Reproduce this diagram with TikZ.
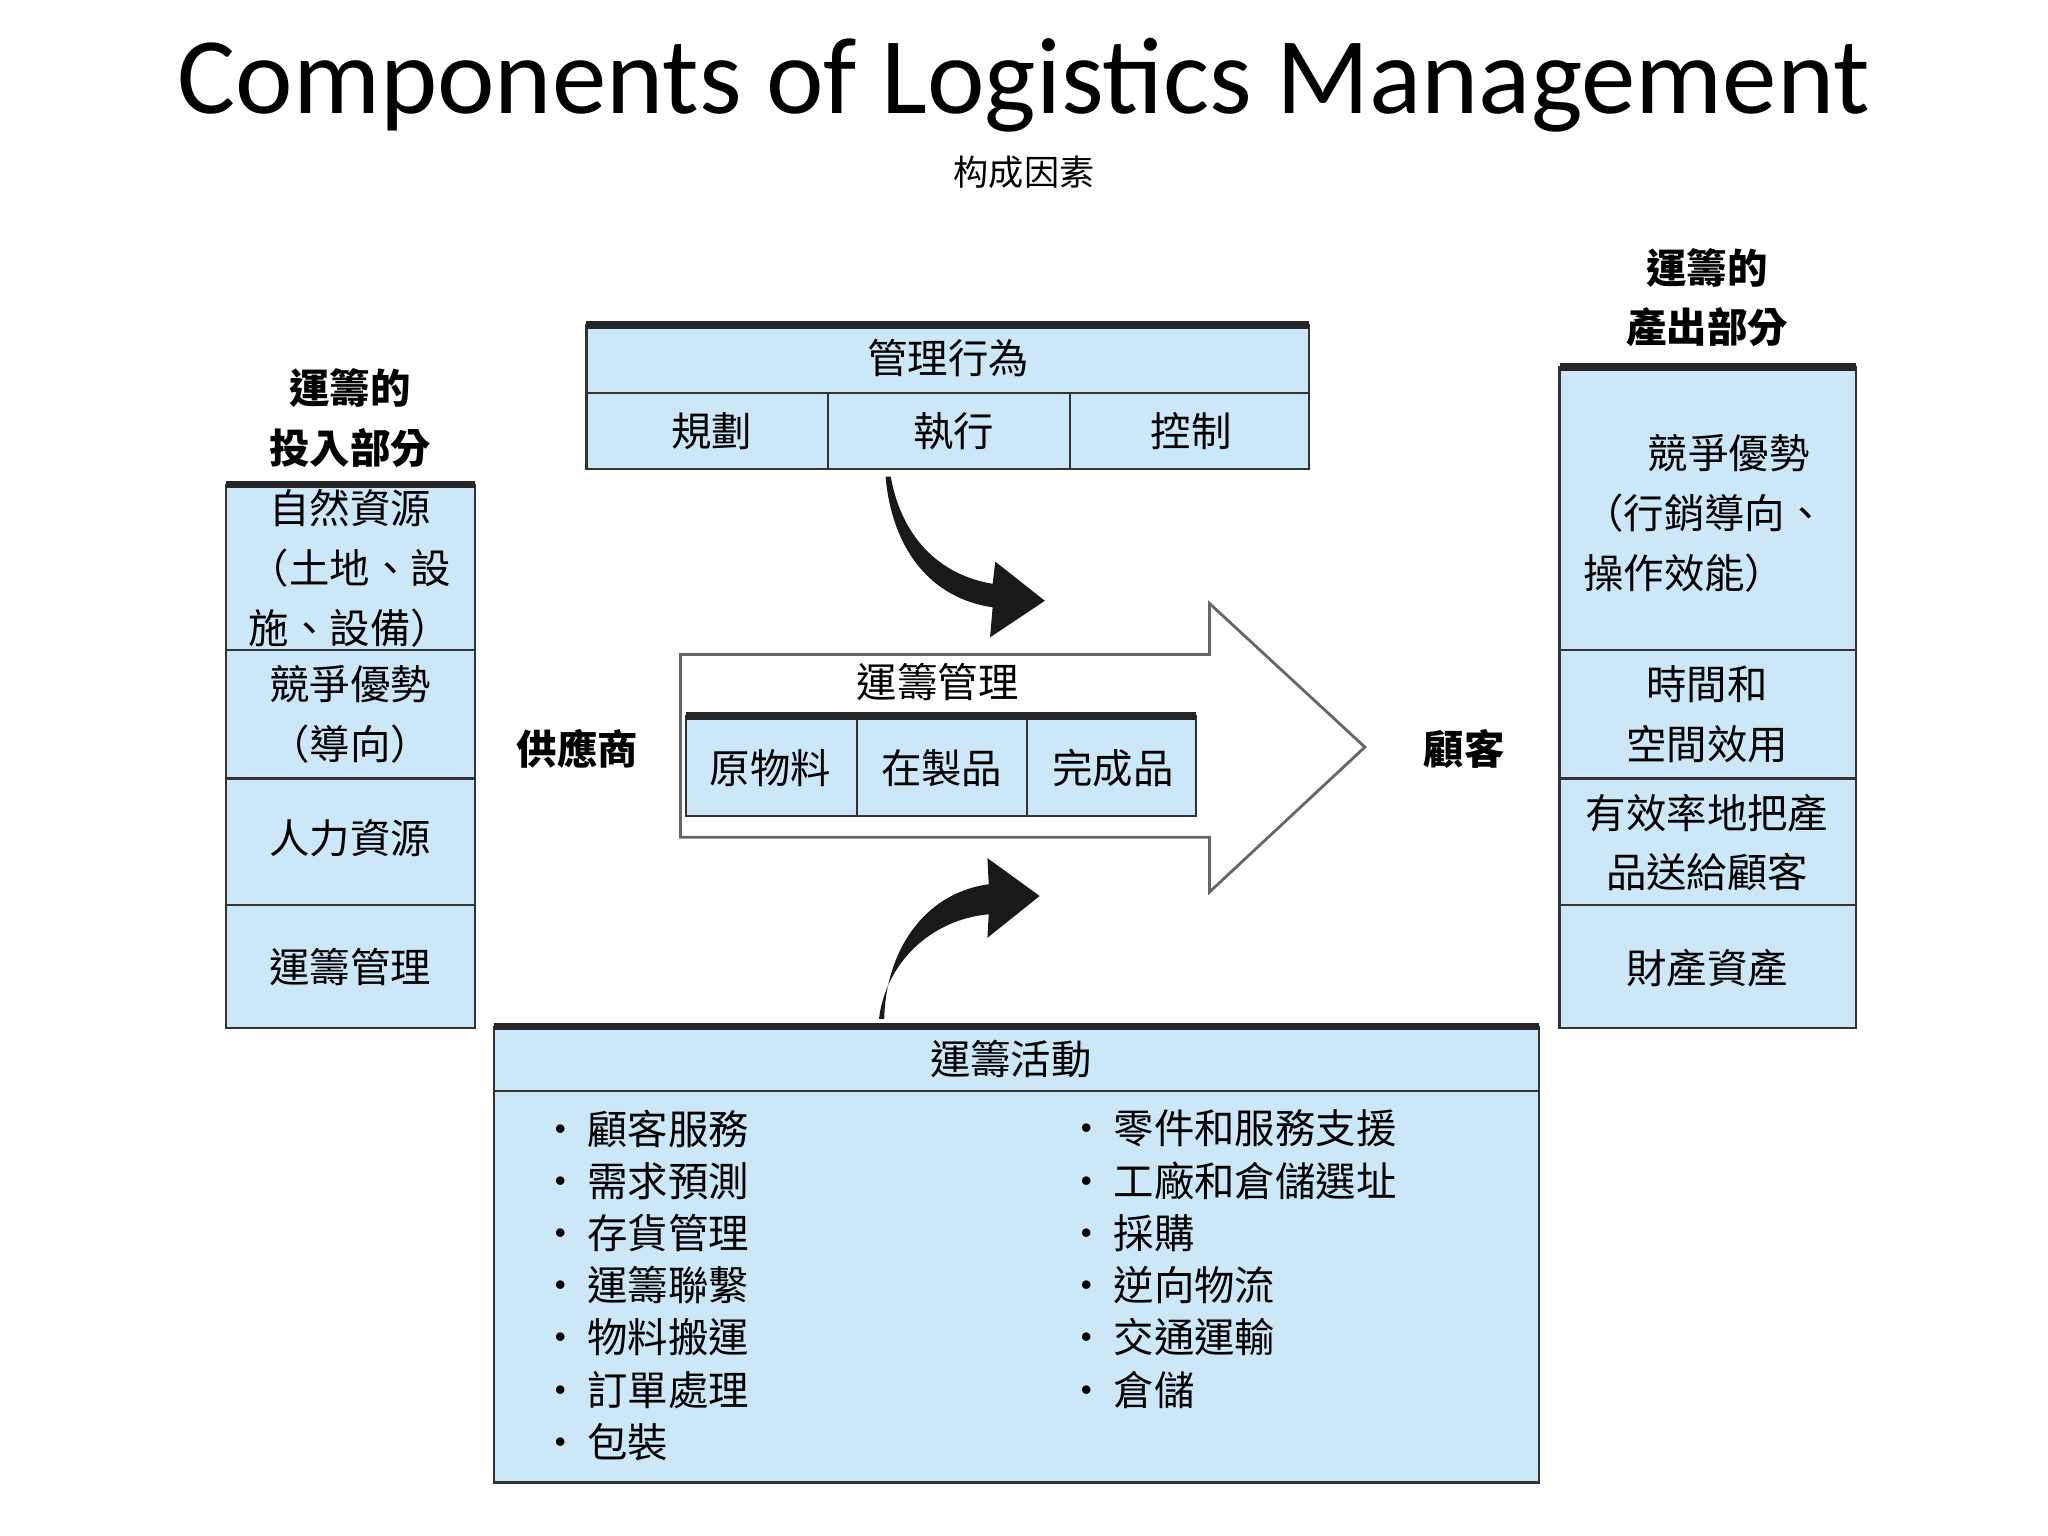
\documentclass[tikz,border=0pt]{standalone}
\usepackage{fontspec}
\setmainfont{Carlito}
\newfontfamily\cjk{Noto Sans CJK TC}
\newfontfamily\cjksc{Noto Sans CJK SC}
\definecolor{boxblue}{RGB}{204,232,248}
\begin{document}
\begin{tikzpicture}[x=0.013061cm,y=-0.013061cm,
  cell/.style={draw=black!80,fill=boxblue,line width=0.6pt},
  thick top/.style={line width=2.2pt,black!85},
  txt/.style={font=\cjk\fontsize{11.5}{17}\selectfont,align=center,inner sep=0pt},
  lab/.style={font=\cjk\bfseries\fontsize{11.5}{17}\selectfont,align=center,inner sep=0pt},
  item/.style={font=\cjk\fontsize{11.5}{17}\selectfont,anchor=west,inner sep=0pt}]
\useasboundingbox (0,0) rectangle (1568,1176);
\node[inner sep=0pt,font=\fontsize{31}{36}\selectfont] (title) at (784,65) {Components of Logistics Management};
\node[inner sep=0pt,font=\cjksc\fontsize{10}{12}\selectfont] (sub) at (784,132) {构成因素};
% left column
\foreach \a/\b in {371/498,498/596,596/693,693/787}{\draw[cell] (173,\a) rectangle (364,\b);}
\draw[thick top] (173,371) -- (364,371);
\node[lab] (linlab) at (268,320) {運籌的\\投入部分};
\node[txt] (l1) at (268,435) {自然資源\\（土地、設\\施、設備）};
\node[txt] (l2) at (268,547) {競爭優勢\\（導向）};
\node[txt] (l3) at (268,642) {人力資源};
\node[txt] (l4) at (268,740) {運籌管理};
% right column
\foreach \a/\b in {281/498,498/596,596/693,693/787}{\draw[cell] (1194,\a) rectangle (1421,\b);}
\draw[thick top] (1194,281) -- (1421,281);
\node[lab] (routlab) at (1307,228) {運籌的\\產出部分};
\node[txt,align=left] (r1) at (1305,393) {\hspace*{1.6em}競爭優勢\\（行銷導向、\\操作效能）};
\node[txt] (r2) at (1307,547) {時間和\\空間效用};
\node[txt] (r3) at (1307,645) {有效率地把產\\品送給顧客};
\node[txt] (r4) at (1307,741) {財產資產};
% top box
\draw[cell] (449,249) rectangle (1002,301);
\foreach \a/\b in {449/634,634/819,819/1002}{\draw[cell] (\a,301) rectangle (\b,359);}
\draw[thick top] (449,249) -- (1002,249);
\node[txt] (mgmt) at (726,274) {管理行為};
\node[txt] (t1) at (545,330) {規劃};
\node[txt] (t2) at (730,330) {執行};
\node[txt] (t3) at (912,330) {控制};
% big arrow
\draw[black!60,line width=0.8pt,fill=white] (521,501) -- (926,501) -- (926,462) -- (1045,572) -- (926,683) -- (926,641) -- (521,641) -- cycle;
\node[txt] (lm) at (718,522) {運籌管理};
\foreach \a/\b in {525/656,656/786,786/916}{\draw[cell] (\a,548) rectangle (\b,625);}
\draw[thick top] (525,548) -- (916,548);
\node[txt] (c1) at (590,588) {原物料};
\node[txt] (c2) at (721,588) {在製品};
\node[txt] (c3) at (852,588) {完成品};
\node[lab] (sup) at (442,573) {供應商};
\node[lab] (cust) at (1121,573) {顧客};
% curved arrows
\fill[black!90] (678,365) .. controls (683,420) and (712,458) .. (760,465)
  -- (758,488) -- (800,460) -- (762,430) -- (760,447)
  .. controls (718,440) and (690,410) .. (682,365) -- cycle;
\fill[black!90] (673,780) .. controls (678,738) and (712,704) .. (757,700)
  -- (756,718) -- (796,686) -- (756,657) -- (757,677)
  .. controls (706,684) and (678,730) .. (677,780) -- cycle;
% bottom box
\draw[cell] (378,786) rectangle (1178,835);
\draw[cell] (378,835) rectangle (1178,1135);
\draw[thick top] (378,786) -- (1178,786);
\node[txt] (act) at (774,811) {運籌活動};
\foreach \t [count=\i] in {顧客服務,需求預測,存貨管理,運籌聯繫,物料搬運,訂單處理,包裝}{
  \node[item] (a\i) at (413,824+40*\i) {•\,\t};}
\foreach \t [count=\i] in {零件和服務支援,工廠和倉儲選址,採購,逆向物流,交通運輸,倉儲}{
  \node[item] (b\i) at (816,824+40*\i) {•\,\t};}
\end{tikzpicture}
\end{document}
